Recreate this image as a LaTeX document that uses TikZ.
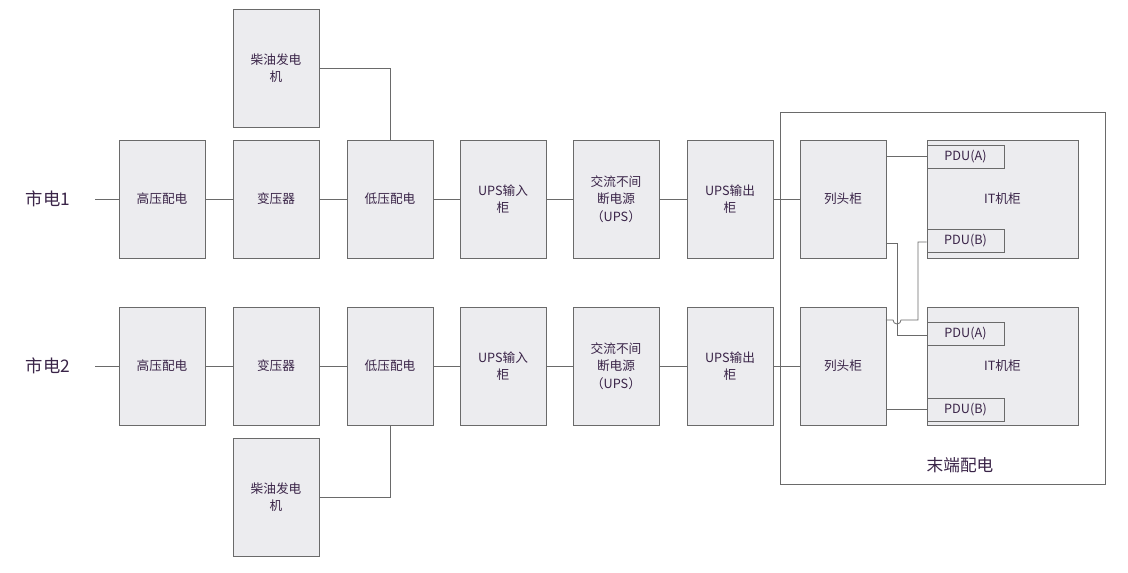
\documentclass[tikz,border=0pt]{standalone}
\usepackage{fontspec}
\newfontfamily\cjk{Noto Sans CJK SC}
\definecolor{txt}{HTML}{3A2448}
\definecolor{boxfill}{HTML}{ECECEF}
\definecolor{ln}{HTML}{6A6A6A}
\begin{document}
\begin{tikzpicture}[x=0.75pt,y=-0.75pt,
  blk/.style={draw=ln,fill=boxfill,minimum width=64.5pt,minimum height=88.5pt,inner sep=0pt,align=center,font=\cjk\fontsize{9.5}{13}\selectfont,text=txt},
  pdu/.style={draw=ln,fill=boxfill,minimum width=57.75pt,minimum height=17.25pt,inner sep=0pt,font=\cjk\fontsize{9.5}{12}\selectfont,text=txt},
  wire/.style={draw=ln,line width=0.6pt}]
\useasboundingbox (0,0) rectangle (1128,572);
\fill[white] (0,0) rectangle (1128,572);
\node[wire,draw,rectangle,minimum width=243.75pt,minimum height=279pt,inner sep=0pt] (end) at (942.5,298) {};
\node[font=\cjk\fontsize{12.5}{14}\selectfont,text=txt] (endlbl) at (960,465) {末端配电};
\foreach \r/\y/\n in {a/199/1,b/366/2}{
  \node[font=\cjk\fontsize{13}{14}\selectfont,text=txt] (src\r) at (48,\y) {市电\n};
  \coordinate (srce\r) at (95,\y);
  \node[blk] (hv\r) at (162,\y) {高压配电};
  \node[blk] (tr\r) at (276,\y) {变压器};
  \node[blk] (lv\r) at (390,\y) {低压配电};
  \node[blk] (ui\r) at (503,\y) {UPS输入\\柜};
  \node[blk] (ups\r) at (616,\y) {交流不间\\断电源\\（UPS）};
  \node[blk] (uo\r) at (730,\y) {UPS输出\\柜};
  \node[blk] (lt\r) at (843,\y) {列头柜};
  \node[draw=ln,fill=boxfill,minimum width=113pt,minimum height=88.5pt,inner sep=0pt,font=\cjk\fontsize{9.5}{12}\selectfont,text=txt] (it\r) at (1002.5,\y) {IT机柜};
  \draw[wire] (srce\r) -- (hv\r) -- (tr\r) -- (lv\r) -- (ui\r) -- (ups\r) -- (uo\r) -- (lt\r);
}
\node[pdu] (pa1) at (965.5,156.5) {PDU(A)};
\node[pdu] (pb1) at (965.5,240.5) {PDU(B)};
\node[pdu] (pa2) at (965.5,333.5) {PDU(A)};
\node[pdu] (pb2) at (965.5,409.5) {PDU(B)};
\node[blk] (gen1) at (276,68) {柴油发电\\机};
\node[blk] (gen2) at (276,497) {柴油发电\\机};
\draw[wire] (gen1.east) -| (lva.north);
\draw[wire] (gen2.east) -| (lvb.south);
\draw[wire] (lta.east |- pa1) -- (pa1.west);
\draw[wire] (ltb.east |- pb2) -- (pb2.west);
\draw[wire] (885.75,243) -- (897,243) -- (897,335) -- (pa2.west |- 0,335);
\draw[wire] (885.75,320) -- (893,320) arc[start angle=180,end angle=0,radius=4] -- (918,320) -- (918,242) -- (pb1.west |- 0,242);
\end{tikzpicture}
\end{document}
